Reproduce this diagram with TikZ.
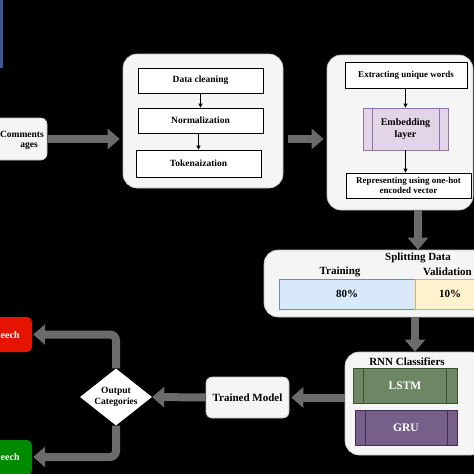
\documentclass[tikz,border=0pt]{standalone}
\usepackage{fontspec}
\setmainfont{Liberation Serif}
\usetikzlibrary{arrows.meta,shapes.geometric,calc}
\definecolor{arrgray}{HTML}{6B6B6B}
\definecolor{panelfill}{HTML}{F5F5F5}
\definecolor{embfill}{HTML}{E1D5E7}
\definecolor{embdraw}{HTML}{9673A6}
\definecolor{trainfill}{HTML}{DAE8FC}
\definecolor{traindraw}{HTML}{6C8EBF}
\definecolor{valfill}{HTML}{FFF2CC}
\definecolor{valdraw}{HTML}{D6B656}
\definecolor{lstmfill}{HTML}{6D8764}
\definecolor{lstmdraw}{HTML}{3A5431}
\definecolor{grufill}{HTML}{76608A}
\definecolor{grudraw}{HTML}{432D57}
\definecolor{hatered}{HTML}{E51400}
\definecolor{nonhategreen}{HTML}{008A00}
\definecolor{bluepic}{HTML}{3B5A9E}
\begin{document}
\begin{tikzpicture}[x=1pt,y=-1pt,
  font=\bfseries,
  panel/.style={fill=panelfill, draw=gray!50, line width=0.6pt, rounded corners=14pt, inner sep=0pt},
  stepbox/.style={fill=white, draw=black, line width=0.8pt, inner sep=0pt, font=\bfseries\fontsize{9.5}{10.5}\selectfont, align=center},
  bigarrow/.style={draw=arrgray, line width=8pt, -{Triangle[length=12pt,width=20pt]}},
  smallarrow/.style={draw=black, line width=0.8pt, -{Triangle[length=4pt,width=4pt]}},
  lbl/.style={inner sep=0pt, font=\bfseries\fontsize{11}{12}\selectfont}
]
\useasboundingbox[fill=black] (0,0) rectangle (474,474);

% top-left fragment of a picture
\fill[bluepic] (-10,-10) rectangle (3,68);

% input box
\node[panel, rounded corners=6pt, minimum width=107pt, minimum height=42pt] (input) at (-6.5,139) {};
\node[lbl, font=\bfseries\fontsize{9.5}{11}\selectfont, anchor=east] (intxt1) at (44,134) {Comments};
\node[lbl, font=\bfseries\fontsize{9.5}{11}\selectfont, anchor=east] (intxt2) at (38,146) {ages};

% preprocessing panel
\node[panel, minimum width=160pt, minimum height=134pt] (proc) at (203,121) {};
\node[stepbox, minimum width=125pt, minimum height=25pt] (dc) at (200.5,80.5) {Data cleaning};
\node[stepbox, minimum width=125pt, minimum height=25pt] (norm) at (200.5,120.5) {Normalization};
\node[stepbox, minimum width=125pt, minimum height=27pt] (tok) at (198.5,163.5) {Tokenaization};
\draw[smallarrow] (dc.south) -- (norm.north);
\draw[smallarrow] (tok.north |- norm.south) -- (tok.north);

% embedding panel
\node[panel, minimum width=146pt, minimum height=155pt] (embp) at (400,132.5) {};
\node[stepbox, font=\bfseries\fontsize{9}{10}\selectfont, minimum width=122pt, minimum height=26pt] (ext) at (406,75) {Extracting unique words};
\node[stepbox, fill=embfill, draw=embdraw, minimum width=85pt, minimum height=42pt, font=\bfseries\fontsize{10}{12}\selectfont] (embl) at (405.5,129) {Embedding\\layer};
\draw[embdraw, line width=0.8pt] ([xshift=10pt]embl.north west) -- ([xshift=10pt]embl.south west)
  ([xshift=-9pt]embl.north east) -- ([xshift=-9pt]embl.south east);
\node[stepbox, minimum width=125pt, minimum height=25pt, font=\bfseries\fontsize{9}{10}\selectfont] (rep) at (408.5,185.5) {Representing using one-hot\\encoded vector};
\draw[smallarrow] (ext.south -| embl.north) -- (embl.north);
\draw[smallarrow] (embl.south) -- (embl.south |- rep.north);

% splitting panel
\node[panel, minimum width=236pt, minimum height=67pt] (split) at (382,283.5) {};
\node[lbl] (splt) at (418,258) {Splitting Data};
\node[lbl] (trt) at (340,272) {Training};
\node[lbl, anchor=west] (valt) at (423,272) {Validation};
\node[draw=traindraw, fill=trainfill, line width=0.6pt, minimum width=136pt, minimum height=30pt, lbl] (train) at (347,294) {80\%};
\node[draw=valdraw, fill=valfill, line width=0.6pt, minimum width=70pt, minimum height=30pt, lbl] (val) at (450,294) {10\%};

% RNN panel
\node[panel, minimum width=140pt, minimum height=103pt] (rnn) at (415,403.5) {};
\node[lbl] (rnnt) at (407,362) {RNN Classifiers};
\node[draw=lstmdraw, fill=lstmfill, line width=0.8pt, minimum width=104pt, minimum height=35pt, inner sep=0pt, text=white, font=\bfseries\fontsize{11.5}{13}\selectfont] (lstm) at (405,385.5) {LSTM};
\draw[lstmdraw, line width=0.8pt] ([xshift=11pt]lstm.north west) -- ([xshift=11pt]lstm.south west)
  ([xshift=-11pt]lstm.north east) -- ([xshift=-11pt]lstm.south east);
\node[draw=grudraw, fill=grufill, line width=0.8pt, minimum width=102pt, minimum height=35pt, inner sep=0pt, text=white, font=\bfseries\fontsize{11.5}{13}\selectfont] (gru) at (406,427.5) {GRU};
\draw[grudraw, line width=0.8pt] ([xshift=11pt]gru.north west) -- ([xshift=11pt]gru.south west)
  ([xshift=-10pt]gru.north east) -- ([xshift=-10pt]gru.south east);

% trained model
\node[panel, rounded corners=6pt, minimum width=83pt, minimum height=41pt, font=\bfseries\fontsize{11}{12}\selectfont] (trained) at (247.5,397.5) {Trained Model};

% decision
\node[diamond, fill=white, draw=none, aspect=1.26, inner sep=0pt, minimum width=72pt, minimum height=57pt, align=center, font=\bfseries\fontsize{9.5}{11}\selectfont] (out) at (116,397) {Output\\Categories};

% output classes
\node[fill=hatered, rounded corners=5pt, minimum width=92pt, minimum height=35pt, inner sep=0pt] (hate) at (-14,334.5) {};
\node[lbl, text=white, anchor=west, font=\bfseries\fontsize{10}{12}\selectfont] (hatet) at (0.5,335) {eech};
\node[fill=nonhategreen, rounded corners=5pt, minimum width=92pt, minimum height=35pt, inner sep=0pt] (nonhate) at (-14,457.5) {};
\node[lbl, text=white, anchor=west, font=\bfseries\fontsize{10}{12}\selectfont] (nonhatet) at (0.5,457) {eech};

% big arrows
\draw[bigarrow] ([xshift=1pt]input.east) -- ([xshift=-3pt]input.east -| proc.west);
\draw[bigarrow] ([xshift=5pt]proc.east |- input.east) -- ([xshift=-3pt]embp.west |- input.east);
\draw[bigarrow] (418,0 |- embp.south) -- (418,0 |- split.north);
\draw[bigarrow] (415,0 |- split.south) -- (415,0 |- rnn.north);
\draw[bigarrow] (rnn.west |- trained.east) -- ([xshift=2pt]trained.east);
\draw[bigarrow] (trained.west) -- (out.east);
\draw[bigarrow, rounded corners=6pt] (out.north) |- ([xshift=1pt]hate.east);
\draw[bigarrow, rounded corners=6pt] (out.south) |- ([xshift=1pt]nonhate.east |- nonhatet.west);
\end{tikzpicture}
\end{document}
